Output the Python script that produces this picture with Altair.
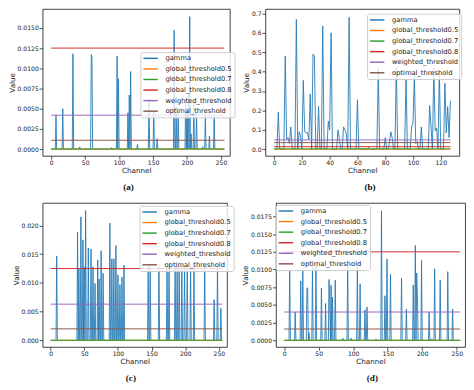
import altair as alt
import pandas as pd

SERIES = ["gamma", "global_threshold0.5", "global_threshold0.7",
          "global_threshold0.8", "weighted_threshold", "optimal_threshold"]
COLORS = ["#1f77b4", "#ff7f0e", "#2ca02c", "#d62728", "#9467bd", "#8c564b"]

# ---- panel (a): 256 channels, non-zero gamma values ----
A_N = 256
A_CH = [7, 17, 32, 42, 59, 60, 89, 97, 99, 113, 115, 117, 127, 144, 151, 156,
        181, 184, 187, 198, 200, 202, 204, 206, 210, 214, 223, 227, 233, 240]
A_VAL = [0.0042, 0.0050, 0.0118, 0.0003, 0.0117, 0.0114, 0.0002, 0.0115, 0.0087,
         0.0045, 0.0067, 0.0096, 0.0006, 0.0060, 0.0048, 0.0013,
         0.0147, 0.0052, 0.0046, 0.0062, 0.0048, 0.0070, 0.0164, 0.0019, 0.0058,
         0.0045, 0.0003, 0.0044, 0.0016, 0.0041]
A_THR = [0.0, 0.00002, 0.0125, 0.0042, 0.0011]

# ---- panel (b): 128 channels ----
B_N = 128
B_CH = [3, 8, 9, 10, 11, 12, 16, 18, 19, 21, 22, 23, 24, 25, 26, 28, 29, 32, 35,
        39, 40, 41, 46, 47, 50, 51, 52, 54, 60, 68, 75, 80, 83, 84, 85, 88, 95,
        99, 100, 101, 102, 103, 106, 112, 113, 115, 116, 117, 119, 123, 124, 125,
        126, 127]
B_VAL = [0.19, 0.48, 0.05, 0.06, 0.03, 0.115, 0.67, 0.09, 0.07, 0.355, 0.09,
         0.085, 0.085, 0.05, 0.285, 0.49, 0.48, 0.22, 0.635,
         0.145, 0.10, 0.60, 0.10, 0.05, 0.115, 0.10, 0.08, 0.68, 0.255, 0.01,
         0.42, 0.06, 0.03, 0.09, 0.06, 0.42, 0.36,
         0.115, 0.135, 0.38, 0.03, 0.04, 0.115, 0.225, 0.12, 0.42, 0.095, 0.11,
         0.40, 0.34, 0.085, 0.22, 0.06, 0.25]
B_THR = [0.0, 0.002, 0.013, 0.048, 0.034]

# ---- panel (c): 256 channels ----
C_N = 256
C_CH = [9, 40, 42, 45, 48, 50, 52, 56, 60, 63, 66, 70, 72, 75, 78,
        88, 91, 94, 97, 100, 103, 106, 109,
        145, 148, 161, 173, 176, 185, 188, 191, 195, 199, 203, 208, 213,
        229, 243, 248, 253]
C_VAL = [0.0147, 0.0188, 0.0125, 0.0215, 0.0175, 0.0128, 0.0226, 0.0161, 0.0159,
         0.0128, 0.0099, 0.0140, 0.0107, 0.0156, 0.0117,
         0.0204, 0.0142, 0.0142, 0.0165, 0.0114, 0.0097, 0.0110, 0.0131,
         0.0129, 0.0129, 0.0129, 0.0129, 0.0129, 0.0129, 0.0129, 0.0129,
         0.0129, 0.0129, 0.0129, 0.0129, 0.0129,
         0.0129, 0.0071, 0.0129, 0.0056]
C_THR = [0.0, 0.0, 0.0125, 0.0063, 0.0020]

# ---- panel (d): 256 channels ----
D_N = 256
D_CH = [8, 16, 24, 27, 33, 34, 36, 41, 46, 54, 60, 65, 66, 68, 70, 74, 85, 92,
        97, 106, 110, 117, 120, 133, 141, 146, 149, 154, 170, 177, 187, 190,
        192, 193, 199, 210, 214, 218, 226, 237, 244]
D_VAL = [0.0098, 0.0040, 0.0084, 0.0098, 0.0074, 0.0074, 0.0011, 0.0104, 0.0105,
         0.0074, 0.0052, 0.0086, 0.0050, 0.0078, 0.0061, 0.0085, 0.0003, 0.0106,
         0.0003, 0.0104, 0.0080, 0.0043, 0.0047, 0.0002, 0.0183, 0.0063, 0.0115,
         0.0093, 0.0088, 0.0044, 0.0078, 0.0134, 0.0095, 0.0064, 0.0113, 0.0040,
         0.0002, 0.0101, 0.0085, 0.0097, 0.0044]
D_THR = [0.0, 0.0, 0.0125, 0.0040, 0.0016]

X_TICKS_256 = [0, 50, 100, 150, 200, 250]
X_TICKS_128 = [0, 20, 40, 60, 80, 100, 120]
A_YTICKS = [0.0, 0.0025, 0.005, 0.0075, 0.01, 0.0125, 0.015]
B_YTICKS = [0.0, 0.1, 0.2, 0.3, 0.4, 0.5, 0.6, 0.7]
C_YTICKS = [0.0, 0.005, 0.01, 0.015, 0.02]
D_YTICKS = [0.0, 0.0025, 0.005, 0.0075, 0.01, 0.0125, 0.015, 0.0175]


def gamma_frame(n, chans, vals):
    g = [0.0] * n
    for c, v in zip(chans, vals):
        g[c] = v
    return pd.DataFrame({"channel": list(range(n)), "value": g, "series": "gamma"})


def thresh_frame(n, name, v):
    return pd.DataFrame({"channel": [0, n - 1], "value": [v, v], "series": [name, name]})


def panel(n, chans, vals, thr, xdom, xticks, ydom, yticks, yfmt, w, h,
          caption, lx, ly, cap_dx):
    color = alt.Color(
        "series:N",
        scale=alt.Scale(domain=SERIES, range=COLORS),
        legend=alt.Legend(
            title=None, orient="none", legendX=lx, legendY=ly,
            symbolType="M-3,0H3", symbolSize=25, symbolStrokeWidth=1.5,
            symbolOffset=4, labelOffset=12, rowPadding=3,
            labelFont="DejaVu Sans", labelFontSize=7, labelColor="#222",
            fillColor="rgba(255,255,255,0.8)", strokeColor="#cccccc",
            cornerRadius=2, padding=3,
        ),
    )
    x = alt.X("channel:Q",
              scale=alt.Scale(domain=xdom, nice=False, zero=False),
              axis=alt.Axis(values=xticks, title="Channel", format="d"))
    y = alt.Y("value:Q",
              scale=alt.Scale(domain=ydom, nice=False, zero=False),
              axis=alt.Axis(values=yticks, title="Value", format=yfmt))
    layers = [alt.Chart(gamma_frame(n, chans, vals)).mark_line(strokeWidth=0.9)
              .encode(x=x, y=y, color=color)]
    for name, v in zip(SERIES[1:], thr):
        layers.append(alt.Chart(thresh_frame(n, name, v)).mark_line(strokeWidth=1.0)
                      .encode(x=x, y=y, color=color))
    return alt.layer(*layers).properties(
        width=w, height=h,
        title=alt.TitleParams(caption, orient="bottom", font="Liberation Serif",
                              fontSize=9.5, fontWeight="bold", color="#111",
                              anchor="middle", offset=8, dx=cap_dx),
    )


pa = panel(A_N, A_CH, A_VAL, A_THR, [-12.75, 263], X_TICKS_256,
           [-0.000825, 0.01735], A_YTICKS, ".4f", 195, 153, "(a)", 102, 45, -8)
pb = panel(B_N, B_CH, B_VAL, B_THR, [-6.35, 133.35], X_TICKS_128,
           [-0.034, 0.7235], B_YTICKS, ".1f", 202, 153, "(b)", 106, 5, 8)
pc = panel(C_N, C_CH, C_VAL, C_THR, [-12, 262], X_TICKS_256,
           [-0.00114, 0.02394], C_YTICKS, ".3f", 192, 150, "(c)", 101, 3, -4)
pd_ = panel(D_N, D_CH, D_VAL, D_THR, [-12, 262], X_TICKS_256,
            [-0.000925, 0.019425], D_YTICKS, ".4f", 197, 150, "(d)", 0, 2, 2)

row1 = alt.hconcat(pa, pb, spacing=7).resolve_scale(color="independent").resolve_legend(color="independent")
row2 = alt.hconcat(pc, pd_, spacing=7).resolve_scale(color="independent").resolve_legend(color="independent")

chart = (
    alt.vconcat(row1, row2, spacing=10)
    .resolve_scale(color="independent")
    .resolve_legend(color="independent")
    .properties(padding={"top": -8, "left": 0, "right": 0, "bottom": 0})
    .configure_view(stroke="#262626", strokeWidth=0.9)
    .configure_axis(
        labelFont="DejaVu Sans", labelFontSize=6.3, labelColor="#222",
        titleFont="DejaVu Sans", titleFontSize=7.5, titleFontWeight="normal",
        titleColor="#222", tickColor="#222", tickSize=3.5, tickWidth=0.8,
        labelPadding=1, titlePadding=1, domain=False, grid=False,
    )
)

chart.save("out.html", embed_options={"renderer": "svg", "actions": False})
